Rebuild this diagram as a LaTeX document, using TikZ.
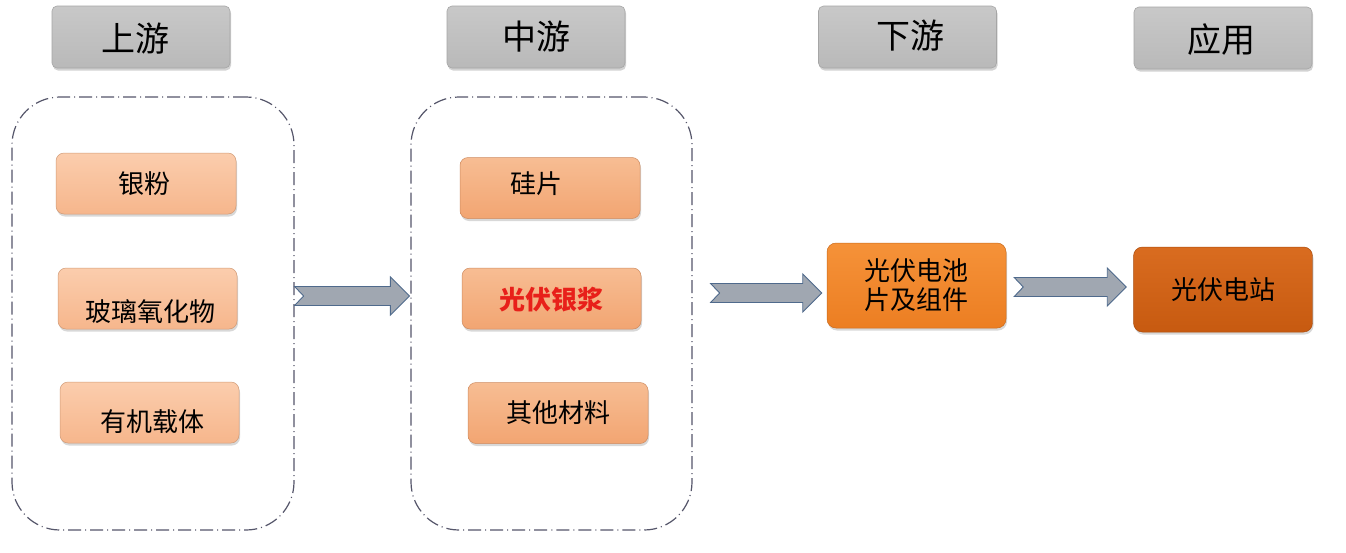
\documentclass[tikz,border=0pt]{standalone}
\usepackage{fontspec}
\setmainfont{Noto Sans CJK SC}
\usetikzlibrary{calc,shadows}
\definecolor{hdrtop}{HTML}{C8C8C8}
\definecolor{hdrbot}{HTML}{B9B9B9}
\definecolor{peachA}{HTML}{FBCDAD}
\definecolor{peachB}{HTML}{F6B68C}
\definecolor{peachC}{HTML}{F7BD93}
\definecolor{peachD}{HTML}{F2A572}
\definecolor{orgA}{HTML}{F59239}
\definecolor{orgB}{HTML}{EC7E22}
\definecolor{dorgA}{HTML}{D96C20}
\definecolor{dorgB}{HTML}{C75A10}
\definecolor{dashc}{HTML}{55566A}
\definecolor{arrfill}{HTML}{A0A7B1}
\definecolor{arrdraw}{HTML}{4F6A8C}
\definecolor{pasteRed}{HTML}{E8201A}
\newcommand\boxfont{\fontsize{26}{30}\selectfont}
\tikzset{
  hdr/.style={rectangle, rounded corners=5pt, minimum width=178pt, minimum height=62pt,
    top color=hdrtop, bottom color=hdrbot, draw=hdrbot!90!black, line width=0.6pt,
    drop shadow={shadow xshift=1pt, shadow yshift=-2.5pt, opacity=0.35},
    font=\fontsize{34}{38}\selectfont, inner sep=0pt},
  group/.style={rectangle, rounded corners=48pt, draw=dashc, line width=1.2pt,
    dash pattern=on 13pt off 4pt on 1pt off 4pt, inner sep=0pt},
  lbox/.style={rectangle, rounded corners=8pt, minimum width=180pt, minimum height=61pt,
    top color=peachA, bottom color=peachB, draw=peachB!85!black, line width=0.5pt,
    drop shadow={shadow xshift=1pt, shadow yshift=-2.5pt, opacity=0.3},
    inner sep=0pt},
  lbl/.style={font=\boxfont, inner sep=0pt},
  mbox/.style={lbox, top color=peachC, bottom color=peachD, draw=peachD!85!black},
  cellbox/.style={rectangle, rounded corners=9pt, minimum width=179pt, minimum height=85pt,
    top color=orgA, bottom color=orgB, draw=orgB!85!black, line width=0.5pt,
    drop shadow={shadow xshift=1pt, shadow yshift=-2.5pt, opacity=0.3},
    font=\fontsize{26}{30}\selectfont, inner sep=0pt, align=center},
  plantbox/.style={cellbox, top color=dorgA, bottom color=dorgB, draw=dorgB!85!black},
  barrow/.style={fill=arrfill, draw=arrdraw, line width=0.9pt, line join=miter},
}
\newcommand\blockarrow[2]{%
  \draw[barrow] let \p1=(#1), \p2=(#2) in
    (\x1,\y1+9.5pt) -- (\x2-19pt,\y1+9.5pt) -- (\x2-19pt,\y1+19pt) -- (\x2,\y1)
    -- (\x2-19pt,\y1-19pt) -- (\x2-19pt,\y1-9.5pt) -- (\x1,\y1-9.5pt)
    -- (\x1+9pt,\y1) -- cycle;}
\begin{document}
\begin{tikzpicture}[x=1pt,y=-1pt]
\useasboundingbox[fill=white] (0,0) rectangle (1346,552);
% headers
\node[hdr] (h1) at (141,37) {};
\node[font=\fontsize{34}{38}\selectfont] at ($(h1.center)+(-6,2)$) {上游};
\node[hdr] (h2) at (536,37) {中游};
\node[hdr] (h3) at (907.5,37) {};
\node[font=\fontsize{34}{38}\selectfont] at ($(h3.center)+(3,-1)$) {下游};
\node[hdr] (h4) at (1223,38) {};
\node[font=\fontsize{34}{38}\selectfont] at ($(h4.center)+(-2,2)$) {应用};
% groups
\node[group, minimum width=282pt, minimum height=433pt] (up) at (153,313.5) {};
\node[group, minimum width=281pt, minimum height=433pt] (mid) at (551.5,313.5) {};
% upstream items
\node[lbox] (ag) at (146,183.5) {};
\node[lbl] at ($(ag.center)+(-2,0)$) {银粉};
\node[lbox, minimum width=179pt] (glass) at (147.5,298.5) {};
\node[lbl] at ($(glass.center)+(3,13)$) {玻璃氧化物};
\node[lbox, minimum width=179pt] (org) at (149.5,412.5) {};
\node[lbl] at ($(org.center)+(3,9)$) {有机载体};
% midstream items
\node[mbox] (si) at (550,188) {};
\node[lbl] at ($(si.center)+(-14,-4)$) {硅片};
\node[mbox, minimum width=179pt] (paste) at (551.5,298.5) {};
\node[lbl, font=\boxfont\bfseries, text=pasteRed] at ($(paste.center)+(0,1)$) {光伏银浆};
\node[mbox] (other) at (558,413) {};
\node[lbl] at ($(other.center)+(0,0)$) {其他材料};
% downstream and application
\node[cellbox] (cell) at (916.5,285.5) {光伏电池\\[-1pt]片及组件};
\node[plantbox] (plant) at (1223,289.5) {光伏电站};
% connectors
\coordinate (a1s) at (up.east |- 0,296);
\coordinate (a1e) at ($(mid.west |- 0,296)+(-1,0)$);
\blockarrow{a1s}{a1e}
\coordinate (a2s) at ($(mid.east |- 0,293)+(18,0)$);
\coordinate (a2e) at ($(cell.west |- 0,293)+(-5,0)$);
\blockarrow{a2s}{a2e}
\coordinate (a3s) at ($(cell.east |- 0,287)+(8,0)$);
\coordinate (a3e) at ($(plant.west |- 0,287)+(-7,0)$);
\blockarrow{a3s}{a3e}
\end{tikzpicture}
\end{document}
